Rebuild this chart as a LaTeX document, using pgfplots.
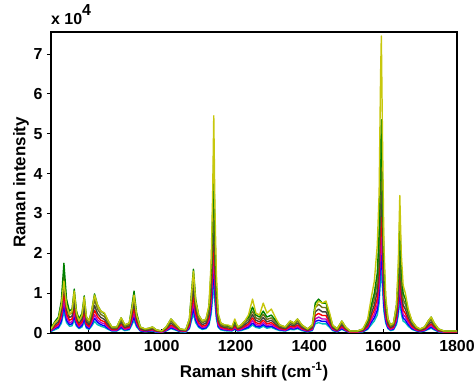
\documentclass[border=0pt]{standalone}
\usepackage{fontspec}
\setmainfont{Liberation Sans}
\usepackage{pgfplots}
\usepackage{pgfplotstable}
\pgfplotsset{compat=1.18}
\definecolor{myel}{rgb}{0.78,0.78,0.05}
\definecolor{mgreen}{rgb}{0,0.5,0}
\definecolor{molive}{rgb}{0.45,0.45,0.1}
\definecolor{mgray}{rgb}{0.25,0.25,0.25}
\definecolor{mred}{rgb}{1,0,0}
\definecolor{mmag}{rgb}{0.75,0,0.75}
\definecolor{mblue}{rgb}{0,0,1}
\definecolor{mcyan}{rgb}{0,0.75,0.75}
\pgfplotstableread{
x a b c d e f g h
700 0.10 0.12 .10 .08 .07 .06 .05 .04
710 0.25 0.28 .24 .20 .16 .13 .11 .08
720 0.35 0.40 .34 .28 .23 .19 .15 .12
728 0.70 0.80 .68 .56 .46 .38 .30 .24
735 1.30 1.75 1.49 1.23 1.02 .82 .67 .53
742 0.70 0.85 .72 .60 .49 .40 .32 .26
750 0.45 0.55 .47 .39 .32 .26 .21 .17
757 0.55 0.60 .51 .42 .35 .28 .23 .18
763 1.05 1.10 .94 .77 .64 .52 .42 .33
769 0.50 0.55 .47 .39 .32 .26 .21 .17
776 0.30 0.35 .30 .25 .20 .16 .13 .11
784 0.45 0.50 .43 .35 .29 .24 .19 .15
790 0.90 0.93 .79 .65 .54 .44 .35 .28
796 0.40 0.40 .34 .28 .23 .19 .15 .12
803 0.30 0.30 .26 .21 .17 .14 .11 .09
810 0.55 0.55 .47 .39 .32 .26 .21 .17
818 0.95 0.98 .83 .69 .57 .46 .37 .29
826 0.70 0.70 .60 .49 .41 .33 .27 .21
835 0.55 0.55 .47 .39 .32 .26 .21 .17
845 0.50 0.48 .41 .34 .28 .23 .18 .14
855 0.30 0.30 .26 .21 .17 .14 .11 .09
865 0.15 0.15 .13 .11 .09 .07 .06 .05
878 0.15 0.15 .13 .11 .09 .07 .06 .05
890 0.38 0.38 .32 .27 .22 .18 .14 .11
900 0.20 0.20 .17 .14 .12 .09 .08 .06
912 0.25 0.25 .21 .18 .15 .12 .10 .08
918 0.55 0.60 .51 .42 .35 .28 .23 .18
925 0.95 1.05 .89 .74 .61 .49 .40 .32
932 0.45 0.50 .43 .35 .29 .24 .19 .15
942 0.15 0.15 .13 .11 .09 .07 .06 .05
955 0.10 0.10 .09 .07 .06 .05 .04 .03
965 0.12 0.12 .10 .08 .07 .06 .05 .04
975 0.15 0.15 .13 .11 .09 .07 .06 .05
985 0.08 0.08 .07 .06 .05 .04 .03 .02
1000 0.05 0.05 .04 .04 .03 .02 .02 .02
1012 0.15 0.15 .13 .11 .09 .07 .06 .05
1025 0.35 0.35 .30 .25 .20 .16 .13 .11
1035 0.25 0.25 .21 .18 .15 .12 .10 .08
1050 0.10 0.10 .09 .07 .06 .05 .04 .03
1065 0.08 0.08 .07 .06 .05 .04 .03 .02
1075 0.35 0.35 .30 .25 .20 .16 .13 .11
1080 0.90 0.95 .81 .67 .55 .45 .36 .29
1086 1.55 1.60 1.36 1.12 .93 .75 .61 .48
1092 0.80 0.85 .72 .60 .49 .40 .32 .26
1100 0.45 0.45 .38 .32 .26 .21 .17 .14
1110 0.30 0.30 .26 .21 .17 .14 .11 .09
1120 0.35 0.35 .30 .25 .20 .16 .13 .11
1128 0.70 0.65 .55 .46 .38 .31 .25 .20
1134 1.80 1.60 1.36 1.12 .93 .75 .61 .48
1138 3.50 3.00 2.55 2.10 1.74 1.41 1.14 .90
1141 5.45 4.30 3.66 3.01 2.49 2.02 1.63 1.29
1144 3.20 2.60 2.21 1.82 1.51 1.22 .99 .78
1148 1.50 1.20 1.02 .84 .70 .56 .46 .36
1153 0.50 0.45 .38 .32 .26 .21 .17 .14
1160 0.25 0.25 .21 .18 .15 .12 .10 .08
1170 0.20 0.20 .17 .14 .12 .09 .08 .06
1180 0.20 0.18 .15 .13 .10 .08 .07 .05
1190 0.15 0.15 .13 .11 .09 .07 .06 .05
1198 0.35 0.30 .26 .21 .17 .14 .11 .09
1206 0.15 0.15 .13 .11 .09 .07 .06 .05
1215 0.20 0.20 .17 .14 .12 .09 .08 .06
1225 0.30 0.30 .26 .21 .17 .14 .11 .09
1235 0.45 0.40 .34 .28 .23 .19 .15 .12
1246 0.85 0.65 .55 .46 .38 .31 .25 .20
1255 0.50 0.45 .38 .32 .26 .21 .17 .14
1265 0.45 0.40 .34 .28 .23 .19 .15 .12
1275 0.75 0.55 .47 .39 .32 .26 .21 .17
1285 0.50 0.40 .34 .28 .23 .19 .15 .12
1297 0.60 0.45 .38 .32 .26 .21 .17 .14
1310 0.35 0.30 .26 .21 .17 .14 .11 .09
1320 0.20 0.20 .17 .14 .12 .09 .08 .06
1335 0.15 0.15 .13 .11 .09 .07 .06 .05
1348 0.30 0.30 .26 .21 .17 .14 .11 .09
1358 0.25 0.25 .21 .18 .15 .12 .10 .08
1368 0.35 0.35 .30 .25 .20 .16 .13 .11
1380 0.20 0.20 .17 .14 .12 .09 .08 .06
1395 0.10 0.10 .09 .07 .06 .05 .04 .03
1408 0.20 0.20 .17 .14 .12 .09 .08 .06
1416 0.65 0.75 .64 .53 .44 .35 .29 .23
1425 0.80 0.85 .72 .60 .49 .40 .32 .26
1435 0.75 0.75 .64 .53 .44 .35 .29 .23
1445 0.80 0.75 .64 .53 .44 .35 .29 .23
1455 0.50 0.45 .38 .32 .26 .21 .17 .14
1463 0.20 0.20 .17 .14 .12 .09 .08 .06
1475 0.10 0.10 .09 .07 .06 .05 .04 .03
1488 0.30 0.30 .26 .21 .17 .14 .11 .09
1498 0.15 0.15 .13 .11 .09 .07 .06 .05
1510 0.05 0.05 .04 .04 .03 .02 .02 .02
1530 0.05 0.05 .04 .04 .03 .02 .02 .02
1545 0.10 0.10 .09 .07 .06 .05 .04 .03
1558 0.35 0.30 .26 .21 .17 .14 .11 .09
1568 0.90 0.70 .60 .49 .41 .33 .27 .21
1576 1.30 1.00 .85 .70 .58 .47 .38 .30
1584 2.20 1.50 1.28 1.05 .87 .71 .57 .45
1589 3.50 2.50 2.13 1.75 1.45 1.18 .95 .75
1593 6.50 4.60 3.91 3.22 2.67 2.16 1.75 1.38
1595 7.45 5.35 4.55 3.75 3.10 2.51 2.03 1.61
1598 5.00 3.80 3.23 2.66 2.20 1.79 1.44 1.14
1602 2.20 1.80 1.53 1.26 1.04 .85 .68 .54
1607 0.90 0.80 .68 .56 .46 .38 .30 .24
1613 0.35 0.35 .30 .25 .20 .16 .13 .11
1620 0.20 0.20 .17 .14 .12 .09 .08 .06
1628 0.25 0.25 .21 .18 .15 .12 .10 .08
1636 0.70 0.70 .60 .49 .41 .33 .27 .21
1641 1.80 1.50 1.28 1.05 .87 .71 .57 .45
1645 3.45 2.80 2.38 1.96 1.62 1.32 1.06 .84
1649 2.00 1.60 1.36 1.12 .93 .75 .61 .48
1654 1.20 1.00 .85 .70 .58 .47 .38 .30
1660 1.00 0.85 .72 .60 .49 .40 .32 .26
1668 0.60 0.55 .47 .39 .32 .26 .21 .17
1678 0.30 0.30 .26 .21 .17 .14 .11 .09
1690 0.15 0.15 .13 .11 .09 .07 .06 .05
1700 0.10 0.10 .09 .07 .06 .05 .04 .03
1712 0.15 0.15 .13 .11 .09 .07 .06 .05
1722 0.30 0.30 .26 .21 .17 .14 .11 .09
1730 0.40 0.40 .34 .28 .23 .19 .15 .12
1738 0.25 0.25 .21 .18 .15 .12 .10 .08
1750 0.10 0.10 .09 .07 .06 .05 .04 .03
1765 0.05 0.05 .04 .04 .03 .02 .02 .02
1780 0.05 0.05 .04 .04 .03 .02 .02 .02
1800 0.05 0.05 .04 .04 .03 .02 .02 .02
}\spectra
\begin{document}
\begin{tikzpicture}
\begin{axis}[
  scale only axis,
  width=406bp, height=301bp,
  xmin=700, xmax=1800, ymin=0, ymax=7.55,
  xtick={800,1000,1200,1400,1600,1800},
  ytick={0,1,2,3,4,5,6,7},
  xtick pos=bottom, ytick pos=left,
  x tick style={black, line width=0.8pt}, y tick style={black, line width=0.8pt},
  xtick align=inside, ytick align=outside,
  major tick length=4bp,
  axis line style={black, line width=1.6pt},
  /pgf/number format/assume math mode=true,
  /pgf/number format/1000 sep={},
  tick label style={font=\fontsize{16}{19}\selectfont\bfseries},
  xticklabel style={yshift=-4bp},
  yticklabel style={xshift=-1bp},
  xlabel={Raman shift (cm\textsuperscript{-1})},
  ylabel={Raman intensity},
  label style={font=\fontsize{17}{20}\selectfont\bfseries},
  xlabel style={yshift=-4bp},
  ylabel style={yshift=-2bp},
  every axis plot/.append style={line width=1.4pt, no markers, line join=round},
  clip mode=individual,
]
\addplot[mcyan] table[x=x,y=h]{\spectra};
\addplot[mblue] table[x=x,y=g]{\spectra};
\addplot[mmag] table[x=x,y=f]{\spectra};
\addplot[mred] table[x=x,y=e]{\spectra};
\addplot[mgray] table[x=x,y=d]{\spectra};
\addplot[molive] table[x=x,y=c]{\spectra};
\addplot[mgreen] table[x=x,y=b]{\spectra};
\addplot[myel] table[x=x,y=a]{\spectra};
\end{axis}
\node[anchor=south west, inner sep=0pt, font=\fontsize{16}{19}\selectfont\bfseries] at ([yshift=7bp]current axis.north west) {x 10\raisebox{0.6em}{4}};
\pgfresetboundingbox
\path[use as bounding box] ([shift={(-51bp,-54bp)}]current axis.south west) rectangle ([shift={(17bp,32bp)}]current axis.north east);
\end{tikzpicture}
\end{document}
